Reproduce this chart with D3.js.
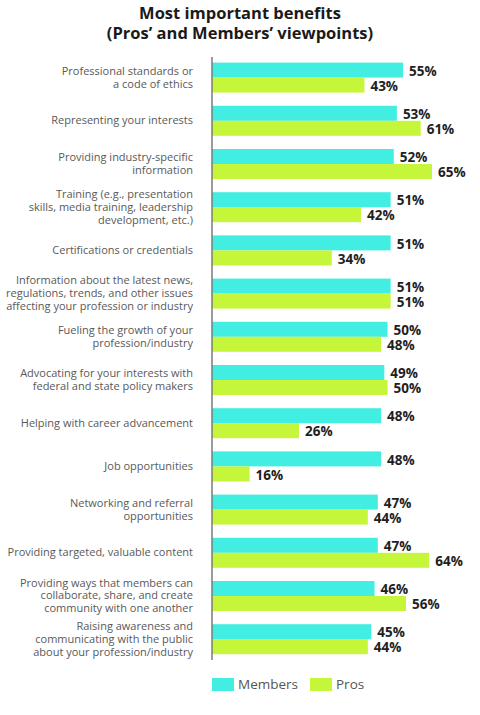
<!DOCTYPE html>
<html>
<head>
<meta charset="utf-8">
<script src="https://cdn.jsdelivr.net/npm/d3@7"></script>
<style>
  html, body { margin: 0; padding: 0; background: #fff; }
  svg { display: block; font-family: "Open Sans", "Noto Sans", sans-serif; }
</style>
</head>
<body>
<svg id="chart" width="480" height="715"></svg>
<script>
const categories = [
  ["Professional standards or", "a code of ethics"],
  ["Representing your interests"],
  ["Providing industry-specific", "information"],
  ["Training (e.g., presentation", "skills, media training, leadership", "development, etc.)"],
  ["Certifications or credentials"],
  ["Information about the latest news,", "regulations, trends, and other issues", "affecting your profession or industry"],
  ["Fueling the growth of your", "profession/industry"],
  ["Advocating for your interests with", "federal and state policy makers"],
  ["Helping with career advancement"],
  ["Job opportunities"],
  ["Networking and referral", "opportunities"],
  ["Providing targeted, valuable content"],
  ["Providing ways that members can", "collaborate, share, and create", "community with one another"],
  ["Raising awareness and", "communicating with the public", "about your profession/industry"]
];
const members = [55, 53, 52, 51, 51, 51, 50, 49, 48, 48, 47, 47, 46, 45];
const pros    = [43, 61, 65, 42, 34, 51, 48, 50, 26, 16, 44, 64, 56, 44];
const seriesNames = ["Members", "Pros"];
const colors = ["#42EEE2", "#C6F63A"];
const titleLines = ["Most important benefits", "(Pros\u2019 and Members\u2019 viewpoints)"];

const svg = d3.select("#chart");
const ids = categories.map((c, i) => i);

// Scales
const y = d3.scaleBand().domain(ids).range([56, 56 + 14 * 43.2])
  .paddingInner(0.3056).paddingOuter(0.1528);
const ySub = d3.scaleBand().domain(seriesNames).range([0, y.bandwidth()]);
const x = d3.scaleSqrt().domain([10, 65]).range([212, 432]);
const color = d3.scaleOrdinal().domain(seriesNames).range(colors);

// Title
svg.append("g").selectAll("text").data(titleLines).join("text")
  .attr("x", 240).attr("y", (d, i) => 19 + i * 19.5)
  .attr("text-anchor", "middle")
  .attr("font-size", 16.5).attr("font-weight", 700).attr("fill", "#1a1a1a")
  .text(d => d);

// Rows
const rows = ids.map(i => ({ i, vals: [{ s: "Members", v: members[i] }, { s: "Pros", v: pros[i] }] }));
const g = svg.append("g").selectAll("g").data(rows).join("g")
  .attr("transform", d => `translate(0,${y(d.i)})`);

g.selectAll("rect").data(d => d.vals).join("rect")
  .attr("x", x.range()[0])
  .attr("y", d => ySub(d.s))
  .attr("width", d => x(d.v) - x.range()[0])
  .attr("height", ySub.bandwidth())
  .attr("fill", d => color(d.s));

g.selectAll("text.val").data(d => d.vals).join("text")
  .attr("class", "val")
  .attr("x", d => x(d.v) + 6)
  .attr("y", d => ySub(d.s) + ySub.bandwidth() / 2 + 1)
  .attr("dy", "0.35em")
  .attr("font-size", 13.5).attr("font-weight", 700).attr("fill", "#1f1f1f")
  .text(d => d.v + "%");

// Category labels
const lh = 13;
g.append("text")
  .attr("text-anchor", "end")
  .attr("font-size", 11).attr("fill", "#595959")
  .selectAll("tspan").data(d => categories[d.i].map((t, k, arr) => ({ t, k, n: arr.length }))).join("tspan")
  .attr("x", 193)
  .attr("y", d => y.bandwidth() / 2 + (d.k - (d.n - 1) / 2) * lh + 3.5)
  .text(d => d.t);

// Axis line
const yAxis = d3.axisLeft(y).tickSize(0).tickFormat("");
svg.append("g").attr("transform", `translate(${x.range()[0]},0)`)
  .call(yAxis)
  .call(a => a.select(".domain").attr("stroke", "#7a7a7a").attr("stroke-width", 1.5)
    .attr("d", `M0,57V660`));

// Legend
const leg = svg.append("g").selectAll("g").data(seriesNames).join("g")
  .attr("transform", (d, i) => `translate(${i === 0 ? 212 : 310},678)`);
leg.append("rect").attr("width", 22).attr("height", 13).attr("fill", d => color(d));
leg.append("text").attr("x", 26).attr("y", 6.5).attr("dy", "0.35em")
  .attr("font-size", 13.5).attr("fill", "#555").text(d => d);
</script>
</body>
</html>
